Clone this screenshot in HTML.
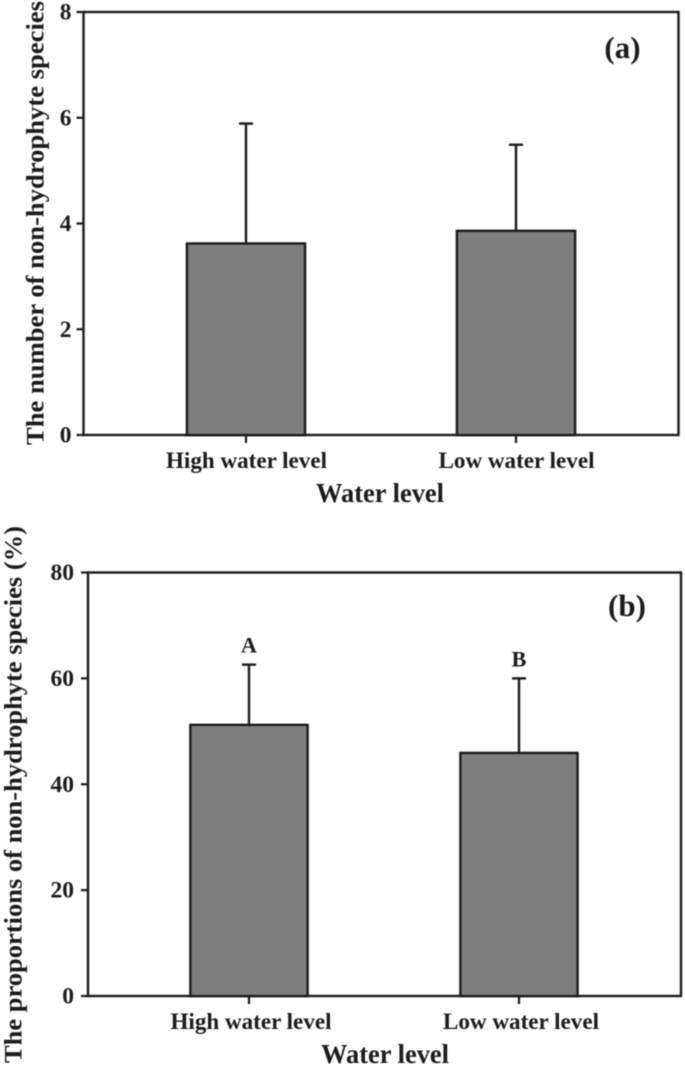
<!DOCTYPE html>
<html>
<head>
<meta charset="utf-8">
<style>
html,body{margin:0;padding:0;background:#fff;overflow:hidden;}
svg{display:block;}
text{font-family:"Liberation Serif",serif;font-weight:bold;fill:#1a1a1a;}
</style>
</head>
<body>
<svg id="chart" xmlns="http://www.w3.org/2000/svg" width="685" height="1067" viewBox="0 0 685 1067">
<defs><filter id="soft" x="-5%" y="-5%" width="110%" height="110%"><feGaussianBlur stdDeviation="0.55"/></filter></defs>
<g id="root" filter="url(#soft)"></g>
</svg>
<script>
const categories = ['High water level', 'Low water level'];
const speciesCountMeans = [3.62, 3.86];
const speciesCountErrorTops = [5.89, 5.49];
const speciesCountTicks = [0, 2, 4, 6, 8];
const proportionMeans = [51.2, 45.9];
const proportionErrorTops = [62.6, 60.0];
const proportionTicks = [0, 20, 40, 60, 80];
const proportionLetters = ['A', 'B'];

const root = document.getElementById('root');
const NS = 'http://www.w3.org/2000/svg';

function make(tag, attrs, label) {
  const el = document.createElementNS(NS, tag);
  for (const k in attrs) el.setAttribute(k, attrs[k]);
  
  
  root.appendChild(el);
  return el;
}
function line(x1, y1, x2, y2, w, label) {
  return make('line', {x1: x1, y1: y1, x2: x2, y2: y2, stroke: '#1a1a1a', 'stroke-width': w, 'stroke-linecap': 'butt'}, label);
}
function label(x, y, str, size, anchor, name, extra) {
  const t = make('text', Object.assign({x: x, y: y, 'font-size': size, 'text-anchor': anchor}, extra || {}), name);
  t.textContent = str;
  return t;
}

function drawPanel(p) {
  const yScale = v => p.bottom - (v / p.yMax) * (p.bottom - p.top);
  const w = p.right - p.left;
  const xScale = i => p.left + w * p.centers[i];

  make('rect', {x: p.left, y: p.top, width: p.right - p.left, height: p.bottom - p.top, fill: 'none', stroke: '#1a1a1a', 'stroke-width': 2.4}, p.id + '-plot-frame');

  p.ticks.forEach(v => {
    const y = yScale(v);
    line(p.left - 7, y, p.left, y, 2.2, p.id + '-y-tick-' + v);
    label(p.left - p.tickGap, y + 7.5, String(v), 23.5, 'end', p.id + '-y-tick-label-' + v);
  });

  categories.forEach((c, i) => {
    const cx = xScale(i);
    const top = yScale(p.means[i]);
    const errTop = yScale(p.errs[i]);
    line(cx, errTop, cx, top, 2.4, p.id + '-error-bar-' + i);
    line(cx - 7, errTop, cx + 7, errTop, 2.4, p.id + '-error-cap-' + i);
    make('rect', {x: cx - p.barW / 2, y: top, width: p.barW, height: p.bottom - top, fill: '#7f7f7f', stroke: '#1a1a1a', 'stroke-width': 2.6}, p.id + '-bar-' + i);
    line(cx, p.bottom, cx, p.bottom + 8, 2.2, p.id + '-x-tick-' + i);
    label(cx + p.catDx, p.bottom + 33, c, 23, 'middle', p.id + '-x-tick-label-' + i, {textLength: p.catLen[i], lengthAdjust: 'spacingAndGlyphs'});
    if (p.letters) label(cx, errTop - 12, p.letters[i], 22, 'middle', p.id + '-significance-letter-' + i);
  });

  label(p.xTitleX, p.bottom + 67, 'Water level', 27, 'middle', p.id + '-x-axis-title', {textLength: p.xTitleLen, lengthAdjust: 'spacingAndGlyphs'});
  label(0, 0, p.yTitle, 25, 'middle', p.id + '-y-axis-title', {
    transform: 'translate(' + p.yTitleX + ' ' + p.yTitleY + ') rotate(-90)',
    textLength: p.yTitleLen, lengthAdjust: 'spacingAndGlyphs'
  });
  label(p.tagX, p.tagY, p.tag, 31, 'middle', p.id + '-panel-label');
}

drawPanel({
  id: 'panel-a', left: 83.5, right: 678.5, top: 12, bottom: 435, yMax: 8, tickGap: 12,
  ticks: speciesCountTicks, means: speciesCountMeans, errs: speciesCountErrorTops,
  centers: [0.2731, 0.7269], barW: 118, catDx: 0.5, catLen: [161, 156],
  xTitleX: 380, xTitleLen: 128,
  yTitle: 'The number of non-hydrophyte species', yTitleX: 43.5, yTitleY: 223, yTitleLen: 444,
  tag: '(a)', tagX: 622.5, tagY: 58
});
drawPanel({
  id: 'panel-b', left: 88, right: 681, top: 572.5, bottom: 996, yMax: 80, tickGap: 14,
  ticks: proportionTicks, means: proportionMeans, errs: proportionErrorTops,
  centers: [0.2715, 0.7268], barW: 117, catDx: 2, catLen: [161, 156],
  xTitleX: 385, xTitleLen: 128, letters: proportionLetters,
  yTitle: 'The proportions of non-hydrophyte species (%)', yTitleX: 21.5, yTitleY: 794.5, yTitleLen: 537,
  tag: '(b)', tagX: 627, tagY: 616
});
</script>
</body>
</html>
